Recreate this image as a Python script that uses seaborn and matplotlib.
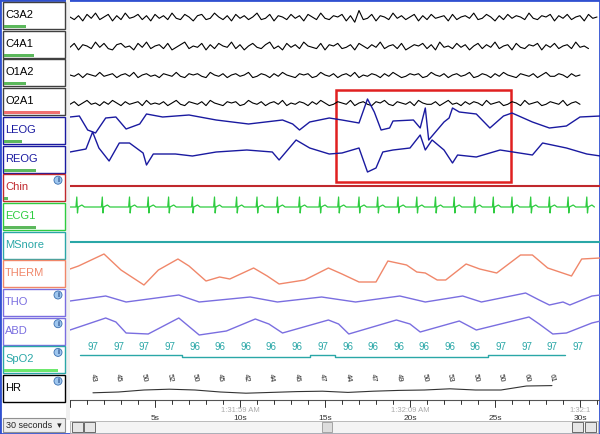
import numpy as np
import pandas as pd
import seaborn as sns
import matplotlib.pyplot as plt
from matplotlib.patches import Rectangle

sns.set_theme(style="white")
plt.rcParams['font.family'] = ['Liberation Sans', 'DejaVu Sans']

# channel names and colours
channels = ['C3A2', 'C4A1', 'O1A2', 'O2A1', 'LEOG', 'REOG', 'Chin', 'ECG1',
            'MSnore', 'THERM', 'THO', 'ABD', 'SpO2', 'HR']
ch_colors = ['#000000', '#000000', '#000000', '#000000', '#1a1aa0', '#1a1aa0',
             '#c0282d', '#2ecc40', '#2aa7a7', '#f0876a', '#7a6ee0', '#7a6ee0',
             '#2aa7a7', '#000000']
bar_len = [0.55, 0.75, 0.55, 1.4, 0.45, 0.8, 0.1, 0.8, 0, 0, 0, 0, 1.35, 0]
bar_col = ['#5cb85c'] * 3 + ['#f07070'] + ['#5cb85c'] * 8 + ['#6de86d', '#5cb85c']
info_icon = ['Chin', 'THO', 'ABD', 'SpO2', 'HR']

# EEG samples, 0.25 s step (hand read, amplitude in px)
c3a2 = [0, 2, -1, 3, -2, 1, -3, 2, 0, -2, 3, -1, 2, -3, 1, 0, -2, 2, -1, 3, -2, 1,
        -1, 2, -3, 1, 2, -2, 0, 3, -1, -2, 2, 1, -3, 0, 2, -1, 3, -2, 1, -1, 2, 0,
        -3, 2, 1, -2, 3, -1, 0, 2, -2, 1, -1, 3, -2, 0, 2, -3, 1, 2, -1, 0, -2, 3,
        -1, 4, -5, 2, 1, -2, 3, -1, 0, 2, -3, 1, -1, 2, 0, -2, 3, -1, 2, -2, 1, 0,
        -1, 3, -2, 2, 0, -1, 1, -3, 2, 1, -2, 0, 3, -1, 2, -2, 1, -1, 0, 2, -3, 1,
        2, -1, 0, -2, 3, -1, 1, -2, 2, 0, -1, 3, -2, 1, 0]
c4a1 = [1, -2, 3, -1, 0, 2, -3, 1, -2, 2, 3, -1, -2, 1, 0, 3, -2, 1, -3, 2, 0, -1,
        2, -2, 3, 1, -1, -3, 2, 0, 1, -2, 3, -1, 2, -2, 0, 1, -3, 2, -1, 3, 0, -2,
        1, 2, -1, -3, 2, 0, 3, -2, 1, -1, 2, -3, 0, 1, 2, -2, 3, -1, 0, -2, 2, 1,
        -1, 3, -2, 0, 2, -1, 1, -3, 2, 0, -1, 2, -2, 3, 1, -1, 0, -2, 2, -1, 3, -3,
        1, 0, 2, -2, 1, -1, 3, 0, -2, 2, -1, 1, -3, 2, 0, -1, 3, -2, 1, 2, -1, 0,
        -2, 3, -1, 1, -2, 2, 0, -1, 2, -3, 1, 0, 2]
o1a2 = [0, 1, -1, 2, -1, 0, 1, -2, 1, 0, -1, 2, 0, -1, 1, -2, 2, 0, -1, 1, 0, 2,
        -1, 0, 1, -2, 1, 2, -1, 0, -1, 1, 2, -2, 0, 1, -1, 2, 0, -1, 1, 0, -2, 2,
        1, -1, 0, 2, -1, 1, -2, 0, 1, 2, -1, 0, -1, 2, 1, -2, 0, 1, -1, 2, 0, -1,
        1, -2, 2, 0, 1, -1, 0, 2, -1, 1, -2, 0, 2, 1, -1, 0, -1, 2, 1, -2, 0, 1,
        -1, 2, 0, -1, 1, 0, -2, 2, 1, -1, 0, 2, -1, 1, -2, 0, 1, 2, -1, 0, 1, -1,
        2, 0, -2, 1, 1, -1, 0, 2, -1, 1, 0]
o2a1 = [1, -1, 2, 0, -2, 1, 0, 2, -1, 1, -2, 0, 2, -1, 1, 0, -1, 2, -2, 1, 0, 1,
        -1, 2, 0, -2, 1, 2, -1, 0, 1, -1, 2, -2, 0, 1, 2, -1, 0, -1, 2, 1, -2, 0,
        1, -1, 2, 0, -1, 1, -2, 2, 0, 1, -1, 0, 2, -1, 1, -2, 0, 2, 1, -1, 0, 1,
        -2, 2, 0, -1, 1, 2, -1, 0, -2, 1, 2, -1, 0, 1, -1, 2, -2, 0, 1, 1, -1, 2,
        0, -2, 1, 0, 2, -1, 1, -1, 0, 2, -2, 1, 0, -1, 2, 1, -1, 0, 2, -2, 1, 0,
        -1, 2, 1, -1, 0, 1, -2, 2, 0, -1, 1]

# EOG breakpoints: time (s) and screen row (px)
leog_t = [0, 0.55, 1.04, 1.5, 2.1, 2.7, 3.3, 4.1, 4.5, 5.45, 7.0, 8.6, 10.5, 12.5,
          13.1, 13.5, 14.1, 15.25, 16.0, 17.0, 17.5, 17.9, 18.3, 18.8, 19.0, 20.2,
          20.6, 20.9, 21.1, 22.0, 22.3, 22.5, 22.9, 23.9, 24.7, 25.5, 26.0, 27.2,
          28.2, 29.2, 30.0, 31.2]
leog_y = [117, 116, 130, 133, 118, 117, 129, 124, 114, 117, 115, 120, 124, 120,
          124, 130, 122, 118, 120, 123, 99, 112, 130, 128, 121, 120, 128, 108, 140,
          122, 118, 108, 112, 114, 128, 116, 113, 122, 128, 126, 117, 116]
reog_t = [0, 0.94, 1.33, 1.7, 2.3, 2.9, 3.5, 4.3, 4.5, 4.9, 6.2, 7.2, 8.6, 10.4,
          11.9, 12.3, 13.3, 14.1, 15.25, 16.0, 17.0, 17.5, 18.0, 18.4, 19.0, 20.0,
          20.6, 20.9, 21.3, 22.0, 22.5, 22.8, 23.9, 25.3, 27.2, 27.8, 29.2, 30.4, 31.2]
reog_y = [152, 149, 132, 148, 161, 143, 143, 153, 165, 154, 154, 156, 152, 150,
          152, 160, 140, 148, 154, 153, 148, 172, 168, 152, 150, 148, 135, 150, 140,
          150, 163, 155, 157, 150, 155, 143, 148, 154, 156]

# ECG beat times (s)
ecg_beats = [0.4, 1.9, 3.5, 4.6, 5.8, 7.2, 8.5, 9.8, 11.0, 12.2, 13.5, 14.7, 15.8,
             17.0, 18.1, 19.3, 20.4, 21.5, 22.6, 23.8, 24.9, 26.0, 27.1, 28.2,
             29.3, 30.4]

# respiration breakpoints: time (s) and screen row (px)
therm_t = [0, 0.5, 2.0, 3.0, 4.35, 5.2, 6.35, 7.0, 8.0, 8.8, 9.4, 10.8, 11.6, 12.3,
           13.8, 15.2, 16.0, 17.0, 18.0, 18.7, 19.8, 20.4, 20.9, 21.6, 22.1, 23.3,
           24.1, 25.1, 26.5, 27.2, 28.1, 29.5, 30.1, 31.2]
therm_y = [269, 266, 254, 270, 285, 270, 259, 266, 281, 277, 279, 268, 276, 284,
           280, 268, 274, 282, 282, 261, 265, 272, 273, 280, 280, 264, 269, 273,
           255, 255, 268, 276, 259, 258]
tho_t = [0, 2.1, 3.3, 6.4, 7.6, 10.6, 12.2, 14.8, 16.8, 19.4, 20.9, 23.1, 24.2,
         26.8, 27.6, 28.2, 29.0, 29.4, 30.7, 31.2]
tho_y = [301, 296, 302, 295, 302, 297, 302, 297, 302, 296, 302, 296, 302, 293,
         300, 305, 302, 305, 296, 295]
abd_t = [0, 2.1, 2.7, 3.3, 4.6, 6.4, 7.6, 9.2, 10.9, 11.7, 12.5, 15.2, 15.8, 16.4,
         19.2, 20.0, 20.6, 22.9, 23.9, 27.0, 27.6, 28.4, 29.2, 30.7, 31.2]
abd_y = [330, 318, 322, 333, 334, 318, 335, 331, 319, 324, 333, 320, 324, 334,
         320, 324, 332, 321, 330, 317, 324, 334, 333, 323, 321]

spo2 = [97, 97, 97, 97, 96, 96, 96, 96, 96, 97, 96, 96, 96, 96, 96, 96, 97, 97, 97, 97]
hr = [43, 45, 50, 52, 50, 45, 42, 44, 46, 47, 44, 47, 49, 50, 53, 50, 50, 60, 61]
clock = {10: '1:31:59 AM', 20: '1:32:09 AM', 30: '1:32:1'}

# layout (pixel rows)
box_top = [2 + 28.7 * i for i in range(14)]
base_y = [17, 46, 75, 103, 124, 150, 186, 207, 242, 272, 299, 327, 350, 388]
px_per_s = 17.0

fig = plt.figure(figsize=(6, 4.34), dpi=100)
pan = fig.add_axes([0, 0, 1, 1])
pan.set_xlim(0, 600)
pan.set_ylim(434, 0)
pan.axis('off')
pan.add_patch(Rectangle((0, 0), 600, 434, fc='white', ec='#3050d0', lw=2))
pan.add_patch(Rectangle((66, 0), 4, 420, fc='#f0f0f0', ec='none'))
for i, name in enumerate(channels):
    y0 = box_top[i]
    pan.add_patch(Rectangle((3, y0), 62, 27, fc='white', ec=ch_colors[i] if i >= 4 else '#404040', lw=1))
    pan.text(5, y0 + 13, name, color=ch_colors[i], fontsize=8, va='center')
    if bar_len[i] > 0:
        pan.add_patch(Rectangle((4, y0 + 23), 40 * bar_len[i], 3, fc=bar_col[i], ec='none'))
    if name in info_icon:
        pan.add_patch(plt.Circle((58, y0 + 6), 4, fc='#9ec6ee', ec='#3a6fb0', lw=0.6))
        pan.text(58, y0 + 6.5, 'i', fontsize=5, color='#1a3f80', ha='center', va='center', weight='bold')
pan.add_patch(Rectangle((3, 418), 62, 14, fc='#eeeeee', ec='#909090', lw=0.8))
pan.text(6, 425, '30 seconds  \u25be', fontsize=6.5, va='center')
pan.add_patch(Rectangle((70, 421), 528, 12, fc='#f4f4f4', ec='#b0b0b0', lw=0.6))
pan.add_patch(Rectangle((322, 422), 10, 10, fc='#dddddd', ec='#999999', lw=0.6))
for bx in [72, 84, 572, 585]:
    pan.add_patch(Rectangle((bx, 422), 11, 10, fc='#e6e6e6', ec='#555555', lw=0.6))

ax = fig.add_axes([70 / 600, 0, 530 / 600, 1])
ax.set_xlim(0, 530 / px_per_s)
ax.set_ylim(434, 0)
ax.axis('off')

def trace(t, y, color, lw=0.9):
    df = pd.DataFrame({'t': t, 'y': y})
    sns.lineplot(data=df, x='t', y='y', ax=ax, color=color, lw=lw, estimator=None, sort=False)

for vals, b in zip([c3a2, c4a1, o1a2, o2a1], base_y[:4]):
    trace(np.arange(len(vals)) * 0.25, b + np.array(vals) * 1.3, 'black', 0.8)
trace(leog_t, leog_y, ch_colors[4], 1.0)
trace(reog_t, reog_y, ch_colors[5], 1.0)
ax.plot([0, 31.2], [base_y[6]] * 2, color=ch_colors[6], lw=1.5)

# ECG from beat times
ecg_t, ecg_y = [0], [0]
for bt in ecg_beats:
    ecg_t += [bt - 0.05, bt, bt + 0.04, bt + 0.08, bt + 0.3, bt + 0.45]
    ecg_y += [0, -10, 6, 0, -2, 0]
trace(ecg_t, base_y[7] + np.array(ecg_y), ch_colors[7], 0.9)
ax.plot([0, 31.2], [base_y[8]] * 2, color=ch_colors[8], lw=1.5)
trace(therm_t, therm_y, ch_colors[9], 1.0)
trace(tho_t, tho_y, ch_colors[10], 1.0)
trace(abd_t, abd_y, ch_colors[11], 1.0)

# SpO2 and HR labels
for k, v in enumerate(spo2):
    ax.text(1.35 + 1.5 * k, base_y[12] - 3, str(v), color=ch_colors[12], fontsize=7, ha='center', va='center')
spo_line = [base_y[12] + 5 + (97 - v) * 1.5 for v in spo2]
ax.step(1.35 + 1.5 * np.arange(len(spo2)) - 0.75, spo_line, where='post', color=ch_colors[12], lw=1)
for k, v in enumerate(hr):
    ax.text(1.35 + 1.5 * k, base_y[13] - 10, str(v), fontsize=5.5, ha='center', va='center', rotation=-80)
ax.plot(1.35 + 1.5 * np.arange(len(hr)), [base_y[13] + 6 - (v - 40) * 0.4 for v in hr],
        color='#333333', lw=0.8)

# time axis
ax.plot([0, 31.2], [400, 400], color='#555555', lw=0.8)
for s in range(0, 32):
    ax.plot([s, s], [400, 404 if s % 5 else 407], color='#333333', lw=0.7)
for s in [5, 10, 15, 20, 25, 30]:
    ax.text(s, 418, f'{s}s', fontsize=6, ha='center', va='center', color='#333333')
for s, lab in clock.items():
    ax.text(s, 411, lab, fontsize=5.5, ha='center', va='center', color='#aaaaaa')

# red event box
ax.add_patch(Rectangle((15.65, 90), 10.3, 92, fill=False, ec='#e02020', lw=1.8))

fig.savefig('out.png', dpi=100)
